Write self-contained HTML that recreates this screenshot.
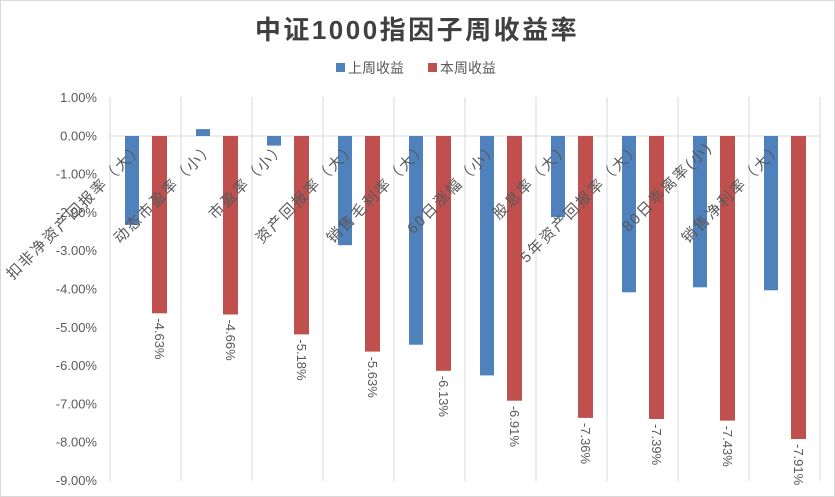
<!DOCTYPE html><html><head><meta charset="utf-8"><style>body{margin:0;background:#fff}svg{display:block}text{font-family:"Liberation Sans","Noto Sans CJK SC",sans-serif}</style></head><body>
<svg width="835" height="497" xmlns="http://www.w3.org/2000/svg">
<rect x="0.5" y="0.5" width="834" height="496" fill="#fff" stroke="#d9d9d9"/>
<text x="417" y="39" text-anchor="middle" font-size="26" font-weight="bold" letter-spacing="2.5" fill="#404040">中证1000指因子周收益率</text>
<rect x="336" y="63" width="9" height="9" fill="#4f81bd"/><text x="348" y="73" font-size="14" fill="#595959">上周收益</text>
<rect x="428" y="63" width="9" height="9" fill="#c0504d"/><text x="440" y="73" font-size="14" fill="#595959">本周收益</text>
<g font-size="13" fill="#595959" text-anchor="end">
<text x="97" y="102">1.00%</text><text x="97" y="140.3">0.00%</text><text x="97" y="178.6">-1.00%</text><text x="97" y="216.9">-2.00%</text><text x="97" y="255.2">-3.00%</text><text x="97" y="293.5">-4.00%</text><text x="97" y="331.8">-5.00%</text><text x="97" y="370.1">-6.00%</text><text x="97" y="408.4">-7.00%</text><text x="97" y="446.7">-8.00%</text><text x="97" y="485">-9.00%</text>
</g>
<g stroke="#d9d9d9">
<line x1="110" y1="97" x2="110" y2="481"/><line x1="181" y1="97" x2="181" y2="481"/><line x1="252" y1="97" x2="252" y2="481"/><line x1="323" y1="97" x2="323" y2="481"/><line x1="394" y1="97" x2="394" y2="481"/><line x1="465" y1="97" x2="465" y2="481"/><line x1="536" y1="97" x2="536" y2="481"/><line x1="607" y1="97" x2="607" y2="481"/><line x1="678" y1="97" x2="678" y2="481"/><line x1="749" y1="97" x2="749" y2="481"/><line x1="820" y1="97" x2="820" y2="481"/>
<line x1="110" y1="136" x2="820" y2="136"/>
</g>
<g fill="#4f81bd">
<rect x="125" y="136" width="14" height="88.9"/><rect x="196" y="129.1" width="14" height="6.9"/><rect x="267" y="136" width="14" height="9.6"/><rect x="338" y="136" width="14" height="109.2"/><rect x="409" y="136" width="14" height="208.7"/><rect x="480" y="136" width="14" height="239.4"/><rect x="551" y="136" width="14" height="81.2"/><rect x="622" y="136" width="14" height="156.3"/><rect x="693" y="136" width="14" height="151.3"/><rect x="764" y="136" width="14" height="154.3"/>
</g>
<g fill="#c0504d">
<rect x="152" y="136" width="15" height="177.3"/><rect x="223" y="136" width="15" height="178.5"/><rect x="294" y="136" width="15" height="198.4"/><rect x="365" y="136" width="15" height="215.6"/><rect x="436" y="136" width="15" height="234.8"/><rect x="507" y="136" width="15" height="264.7"/><rect x="578" y="136" width="15" height="281.9"/><rect x="649" y="136" width="15" height="283"/><rect x="720" y="136" width="15" height="284.6"/><rect x="791" y="136" width="15" height="303"/>
</g>
<g font-size="13" fill="#595959">
<text transform="translate(155,318.3) rotate(90)">-4.63%</text><text transform="translate(226,319.5) rotate(90)">-4.66%</text><text transform="translate(297,339.4) rotate(90)">-5.18%</text><text transform="translate(368,356.6) rotate(90)">-5.63%</text><text transform="translate(439,375.8) rotate(90)">-6.13%</text><text transform="translate(510,405.7) rotate(90)">-6.91%</text><text transform="translate(581,422.9) rotate(90)">-7.36%</text><text transform="translate(652,424) rotate(90)">-7.39%</text><text transform="translate(723,425.6) rotate(90)">-7.43%</text><text transform="translate(794,444) rotate(90)">-7.91%</text>
</g>
<g font-size="15" fill="#595959" text-anchor="end" letter-spacing="2">
<text transform="translate(145,148) rotate(-45)">扣非净资产回报率（大）</text><text transform="translate(216,148) rotate(-45)">动态市盈率（小）</text><text transform="translate(287,148) rotate(-45)">市盈率（小）</text><text transform="translate(358,148) rotate(-45)">资产回报率（大）</text><text transform="translate(429,148) rotate(-45)">销售毛利率（大）</text><text transform="translate(500,148) rotate(-45)">60日涨幅（小）</text><text transform="translate(571,148) rotate(-45)">股息率（大）</text><text transform="translate(642,148) rotate(-45)">5年资产回报率（大）</text><text transform="translate(713,148) rotate(-45)">80日乖离率(小)</text><text transform="translate(784,148) rotate(-45)">销售净利率（大）</text>
</g>
</svg></body></html>
